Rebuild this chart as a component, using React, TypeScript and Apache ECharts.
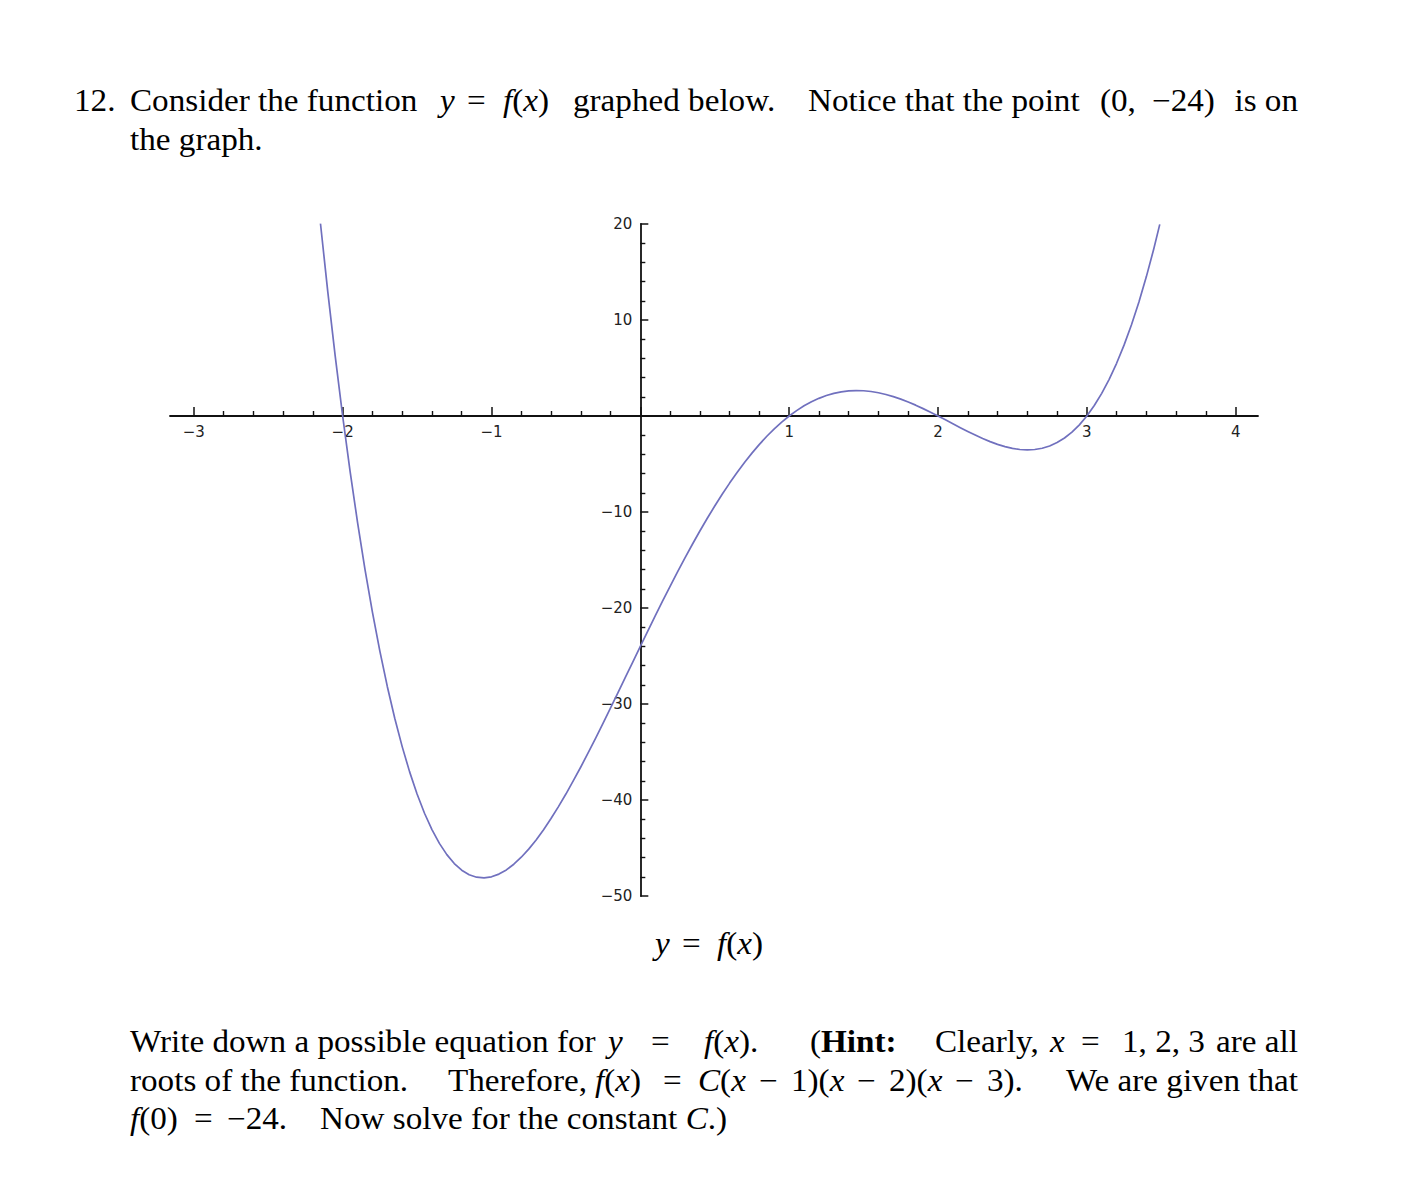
import React, { useEffect, useRef } from "react";
import * as echarts from "echarts";

// ---- data ----
const curveX = [
  -2.149, -2.1, -2.05, -2.0, -1.95, -1.9, -1.85, -1.8, -1.75, -1.7, -1.65, -1.6, -1.55,
  -1.5, -1.45, -1.4, -1.35, -1.3, -1.25, -1.2, -1.15, -1.1, -1.05, -1.0, -0.95, -0.9,
  -0.85, -0.8, -0.75, -0.7, -0.65, -0.6, -0.55, -0.5, -0.45, -0.4, -0.35, -0.3, -0.25,
  -0.2, -0.15, -0.1, -0.05, 0.0, 0.05, 0.1, 0.15, 0.2, 0.25, 0.3, 0.35, 0.4, 0.45, 0.5,
  0.55, 0.6, 0.65, 0.7, 0.75, 0.8, 0.85, 0.9, 0.95, 1.0, 1.05, 1.1, 1.15, 1.2, 1.25, 1.3,
  1.35, 1.4, 1.45, 1.5, 1.55, 1.6, 1.65, 1.7, 1.75, 1.8, 1.85, 1.9, 1.95, 2.0, 2.05, 2.1,
  2.15, 2.2, 2.25, 2.3, 2.35, 2.4, 2.45, 2.5, 2.55, 2.6, 2.65, 2.7, 2.75, 2.8, 2.85, 2.9,
  2.95, 3.0, 3.05, 3.1, 3.15, 3.2, 3.25, 3.3, 3.35, 3.4, 3.45, 3.49,
];
const curveY = [
  20.05, 12.96, 6.24, 0, -5.77, -11.08, -15.97, -20.43, -24.49, -28.17, -31.48, -34.44,
  -37.07, -39.38, -41.38, -43.08, -44.52, -45.69, -46.62, -47.31, -47.78, -48.04, -48.11,
  -48.0, -47.72, -47.28, -46.69, -45.96, -45.12, -44.16, -43.09, -41.93, -40.69, -39.38,
  -37.99, -36.56, -35.07, -33.55, -31.99, -30.41, -28.82, -27.21, -25.6, -24.0, -22.41,
  -20.83, -19.27, -17.74, -16.24, -14.78, -13.36, -11.98, -10.65, -9.38, -8.15, -6.99,
  -5.89, -4.84, -3.87, -2.96, -2.11, -1.34, -0.63, 0, 0.56, 1.06, 1.49, 1.84, 2.13, 2.36,
  2.52, 2.61, 2.65, 2.63, 2.55, 2.42, 2.24, 2.02, 1.76, 1.46, 1.13, 0.77, 0.39, 0, -0.4,
  -0.81, -1.22, -1.61, -1.99, -2.35, -2.67, -2.96, -3.19, -3.38, -3.49, -3.53, -3.49,
  -3.36, -3.12, -2.76, -2.29, -1.68, -0.92, 0, 1.09, 2.36, 3.82, 5.49, 7.38, 9.51, 11.88,
  14.52, 17.42, 19.96,
];
const xTickValues = [-3, -2, -1, 0, 1, 2, 3, 4];
const xTickLabels = ["\u22123", "\u22122", "\u22121", "", "1", "2", "3", "4"];
const yTickValues = [-50, -40, -30, -20, -10, 0, 10, 20];
const yTickLabels = ["\u221250", "\u221240", "\u221230", "\u221220", "\u221210", "", "10", "20"];

const X_VIEW_MIN = -3.16;
const X_VIEW_MAX = 4.15;
const Y_MIN = -50;
const Y_MAX = 20;

// ---- styling ----
const SERIF = '"Liberation Serif", "Times New Roman", serif';
const SANS = '"DejaVu Sans", Verdana, sans-serif';
const FS = 31;
const SX = 1.07;
const richStyles = {
  i: { fontFamily: SERIF, fontSize: FS, fontStyle: "italic", fill: "#000", color: "#000" },
  b: { fontFamily: SERIF, fontSize: FS, fontWeight: "bold", fill: "#000", color: "#000" },
};

function txt(x: number, y: number, text: string, align: string = "left") {
  return {
    type: "text",
    x,
    y,
    scaleX: SX,
    silent: true,
    style: {
      text,
      rich: richStyles,
      fontFamily: SERIF,
      fontSize: FS,
      fill: "#000",
      align,
      textAlign: align,
      verticalAlign: "middle",
      textVerticalAlign: "middle",
    },
  };
}

function labelFor(values: number[], labels: string[]) {
  return (v: number) => {
    const idx = values.findIndex((t) => Math.abs(t - v) < 1e-6);
    return idx >= 0 ? labels[idx] : "";
  };
}

const AXIS_COLOR = "#111111";
const TICK_FONT = { fontFamily: SANS, fontSize: 15, color: "#222222" };
const CURVE_COLOR = "#7070be";

export default function App() {
  const ref = useRef<HTMLDivElement>(null);

  useEffect(() => {
    document.body.style.margin = "0";
    if (!ref.current) return;
    const chart = echarts.init(ref.current, null, { renderer: "svg" });

    const gridTop = 224;
    const gridHeight = 672;
    const plotLeft = 170;
    const plotRight = 1258;
    const pxPerUnit = (plotRight - plotLeft) / (X_VIEW_MAX - X_VIEW_MIN);
    const zeroXPx = plotLeft - X_VIEW_MIN * pxPerUnit;
    const zeroYPx = gridTop + (Y_MAX / (Y_MAX - Y_MIN)) * gridHeight;
    const xAxisOffset = -(gridTop + gridHeight - zeroYPx);
    const yAxisOffset = -(zeroXPx - plotLeft);
    const tickLeft = zeroXPx + xTickValues[0] * pxPerUnit;
    const tickRight = zeroXPx + xTickValues[xTickValues.length - 1] * pxPerUnit;

    const option: any = {
      animation: false,
      backgroundColor: "#ffffff",
      grid: [
        {
          left: plotLeft,
          width: plotRight - plotLeft,
          top: gridTop,
          height: gridHeight,
          containLabel: false,
          outerBoundsMode: "none",
        },
        {
          left: tickLeft,
          width: tickRight - tickLeft,
          top: gridTop,
          height: gridHeight,
          containLabel: false,
          outerBoundsMode: "none",
        },
      ],
      xAxis: [
        {
          type: "value",
          gridIndex: 0,
          min: X_VIEW_MIN,
          max: X_VIEW_MAX,
          position: "bottom",
          offset: xAxisOffset,
          axisLine: { show: true, onZero: false, lineStyle: { color: AXIS_COLOR, width: 1.8 } },
          axisTick: { show: false },
          axisLabel: { show: false },
          splitLine: { show: false },
        },
        {
          type: "value",
          gridIndex: 1,
          min: xTickValues[0],
          max: xTickValues[xTickValues.length - 1],
          interval: 1,
          position: "bottom",
          offset: xAxisOffset,
          axisLine: { show: false, onZero: false },
          axisTick: { show: true, inside: true, length: 9, lineStyle: { color: AXIS_COLOR, width: 1.5 } },
          minorTick: { show: true, splitNumber: 5, length: 5, lineStyle: { color: AXIS_COLOR, width: 1.4 } },
          axisLabel: { show: true, margin: 8, formatter: labelFor(xTickValues, xTickLabels), ...TICK_FONT },
          splitLine: { show: false },
          minorSplitLine: { show: false },
        },
      ],
      yAxis: [
        {
          type: "value",
          gridIndex: 0,
          min: Y_MIN,
          max: Y_MAX,
          interval: 10,
          position: "left",
          offset: yAxisOffset,
          axisLine: { show: true, onZero: false, lineStyle: { color: AXIS_COLOR, width: 1.8 } },
          axisTick: { show: true, inside: true, length: 8, lineStyle: { color: AXIS_COLOR, width: 1.5 } },
          minorTick: { show: true, splitNumber: 5, length: 5, lineStyle: { color: AXIS_COLOR, width: 1.4 } },
          axisLabel: { show: true, margin: 8, formatter: labelFor(yTickValues, yTickLabels), ...TICK_FONT },
          splitLine: { show: false },
          minorSplitLine: { show: false },
        },
        {
          type: "value",
          gridIndex: 1,
          min: Y_MIN,
          max: Y_MAX,
          show: false,
          splitLine: { show: false },
        },
      ],
      series: [
        {
          type: "line",
          xAxisIndex: 0,
          yAxisIndex: 0,
          data: curveX.map((x, i) => [x, curveY[i]]),
          showSymbol: false,
          symbol: "none",
          smooth: false,
          clip: true,
          lineStyle: { color: CURVE_COLOR, width: 1.7, join: "round" },
          itemStyle: { color: CURVE_COLOR },
          silent: true,
        },
      ],
      graphic: [
        // question text
        txt(74, 100, "12."),
        txt(130, 100, "Consider the function"),
        txt(440, 100, "{i|y}"),
        txt(467, 100, "="),
        txt(503, 100, "{i|f}({i|x})"),
        txt(573, 100, "graphed below."),
        txt(808, 100, "Notice that the point"),
        txt(1100, 100, "(0,"),
        txt(1152, 100, "\u221224)"),
        txt(1298, 100, "is on", "right"),
        txt(130, 139, "the graph."),
        // caption
        txt(655, 943, "{i|y}"),
        txt(682, 943, "="),
        txt(717, 943, "{i|f}({i|x})"),
        // bottom paragraph
        txt(130, 1041, "Write down a possible equation for"),
        txt(608, 1041, "{i|y}"),
        txt(651, 1041, "="),
        txt(704, 1041, "{i|f}({i|x})."),
        txt(810, 1041, "({b|Hint:}"),
        txt(935, 1041, "Clearly,"),
        txt(1050, 1041, "{i|x}"),
        txt(1081, 1041, "="),
        txt(1122, 1041, "1, 2, 3"),
        txt(1298, 1041, "are all", "right"),
        txt(130, 1080, "roots of the function."),
        txt(448, 1080, "Therefore,"),
        txt(595, 1080, "{i|f}({i|x})"),
        txt(663, 1080, "="),
        txt(698, 1080, "{i|C}({i|x}"),
        txt(759, 1080, "\u2212"),
        txt(791, 1080, "1)({i|x}"),
        txt(857, 1080, "\u2212"),
        txt(889, 1080, "2)({i|x}"),
        txt(955, 1080, "\u2212"),
        txt(987, 1080, "3)."),
        txt(1298, 1080, "We are given that", "right"),
        txt(130, 1118, "{i|f}(0)"),
        txt(194, 1118, "="),
        txt(227, 1118, "\u221224."),
        txt(320, 1118, "Now solve for the constant {i|C}.)"),
      ],
    };

    chart.setOption(option);
    return () => chart.dispose();
  }, []);

  return <div ref={ref} style={{ width: 1410, height: 1204, background: "#fff" }} />;
}
